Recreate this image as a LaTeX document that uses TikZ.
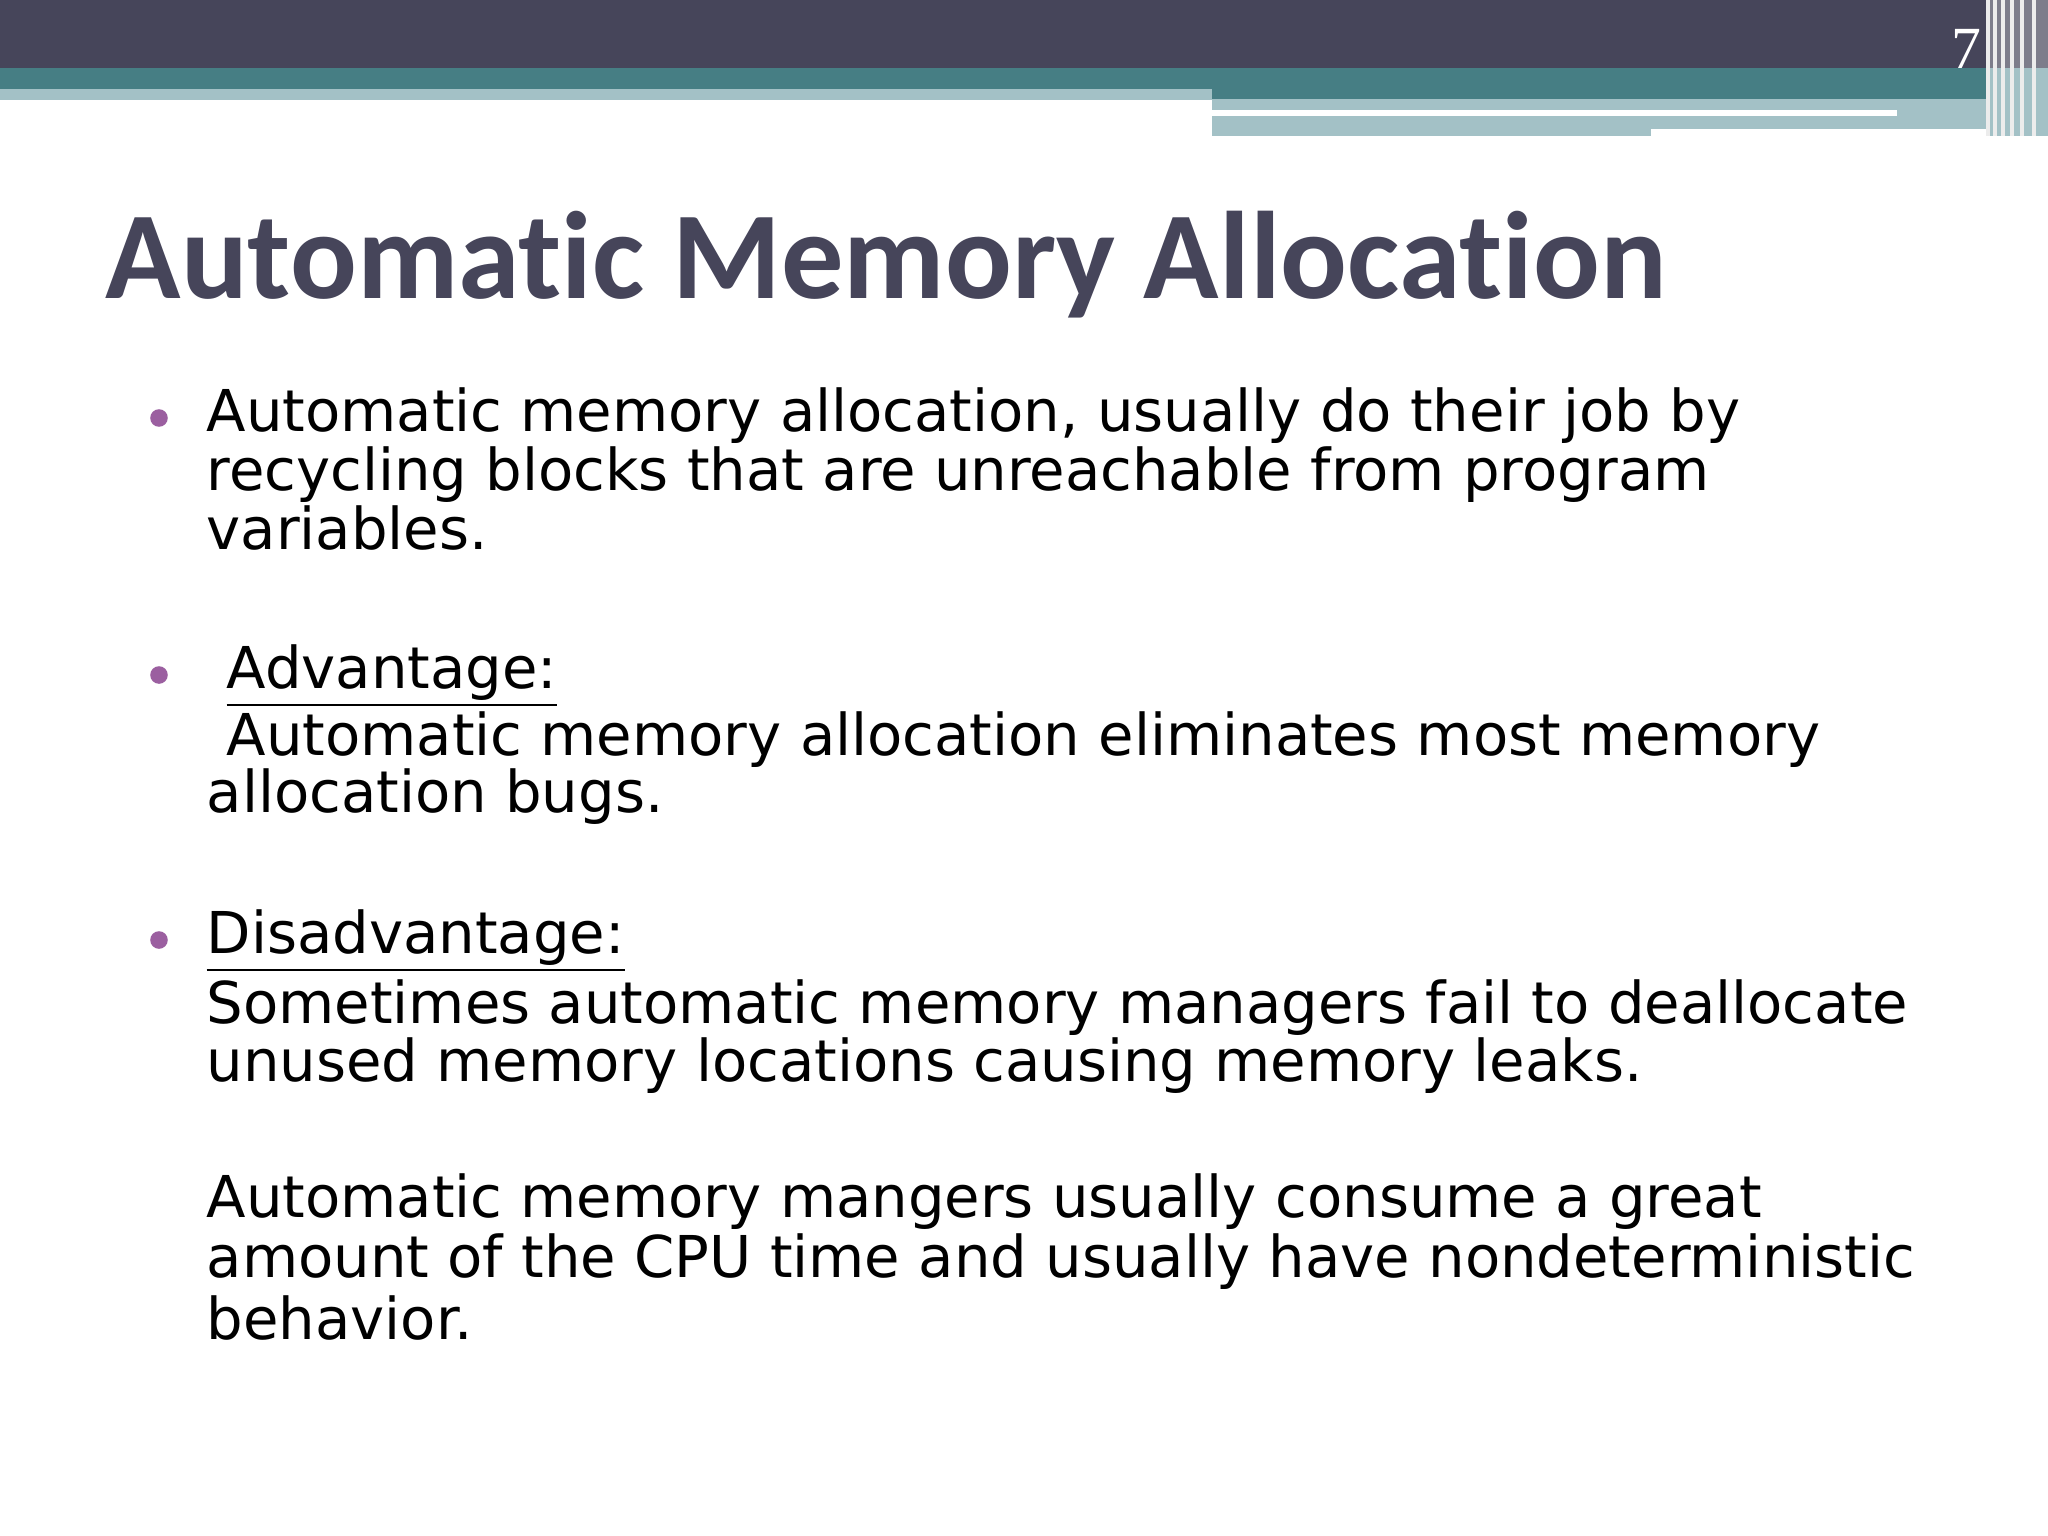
\documentclass[tikz,border=0pt]{standalone}
\usepackage{fontspec}
\setmainfont{DejaVu Sans}
\newfontfamily\titlefont[Ligatures={NoCommon,NoRequired,NoContextual}]{Carlito}
\newfontfamily\numfont{Liberation Serif}
\definecolor{darkbar}{HTML}{46455A}
\definecolor{tealbar}{HTML}{467E84}
\definecolor{lightbar}{HTML}{A3C1C6}
\definecolor{bulletc}{HTML}{9B5FA0}
\tikzset{x=0.01cm,y=-0.01cm,
  body/.style={anchor=base west,inner sep=0pt,font=\fontsize{16.4}{19}\selectfont},
  bul/.style={circle,fill=bulletc,inner sep=0pt,minimum size=5pt}}
\begin{document}
\begin{tikzpicture}
\useasboundingbox (0,0) rectangle (2048,1536);
\fill[white] (0,0) rectangle (2048,1536);
% header
\fill[darkbar] (0,0) rectangle (2048,68);
\fill[tealbar] (0,68) rectangle (1212,89);
\fill[lightbar] (0,89) rectangle (1212,100);
\fill[tealbar] (1212,68) rectangle (2048,99);
\fill[lightbar] (1212,99) rectangle (1651,136);
\fill[lightbar] (1651,99) rectangle (2048,129);
\fill[white] (1212,110) rectangle (1897,116);
\fill[lightbar] (1986,0) rectangle (2048,136);
\fill[darkbar!70] (1986,0) rectangle (2048,68);
\foreach \xx in {1988,1995,2003,2012,2022,2034}{
  \draw[white!85!gray,line width=1.2pt] (\xx,0) -- (\xx,136);}
\node[anchor=base east,inner sep=0pt,text=white,font=\numfont\fontsize{17}{20}\selectfont] (num) at (1982,68) {7};
% title
\node[anchor=base west,inner sep=0pt,text=darkbar,font=\titlefont\bfseries\fontsize{35.4}{40}\selectfont] (title) at (105,298) {Automatic Memory Allocation};
% bullets
\node[bul] (b1) at (159,418) {};
\node[bul] (b2) at (159,675) {};
\node[bul] (b3) at (159,940) {};
\node[body] (l1) at (206,431) {Automatic memory allocation, usually do their job by};
\node[body] (l2) at (206,490) {recycling blocks that are unreachable from program};
\node[body] (l3) at (206,549) {variables.};
\node[body] (l4) at (226,688) {\underline{Advantage:}};
\node[body] (l5) at (226,755) {Automatic memory allocation eliminates most memory};
\node[body] (l6) at (206,812) {allocation bugs.};
\node[body] (l7) at (206,953) {\underline{Disadvantage:}};
\node[body] (l8) at (206,1023) {Sometimes automatic memory managers fail to deallocate};
\node[body] (l9) at (206,1081) {unused memory locations causing memory leaks.};
\node[body] (l10) at (206,1217) {Automatic memory mangers usually consume a great};
\node[body] (l11) at (206,1277) {amount of the CPU time and usually have nondeterministic};
\node[body] (l12) at (206,1339) {behavior.};
\end{tikzpicture}
\end{document}
